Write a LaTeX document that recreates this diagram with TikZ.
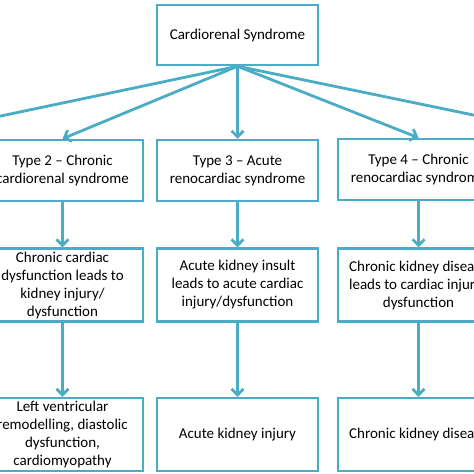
\documentclass[tikz,border=0pt]{standalone}
\usepackage{fontspec}
\setmainfont{Carlito}
\usetikzlibrary{arrows.meta, positioning}
\definecolor{crsblue}{RGB}{75,172,198}
\tikzstyle{box} = [rectangle, line width=2.5pt, draw=crsblue, minimum width=161pt, inner sep=1pt, align=center, font=\fontsize{15pt}{18pt}\selectfont]
\tikzstyle{arrow} = [line width=2.8pt, draw=crsblue, -{Straight Barb[length=6pt, width=12pt, line width=2.8pt]}]

\begin{document}
\begin{tikzpicture}[x=1pt, y=-1pt]
		\useasboundingbox (0,0) rectangle (474,474);
		\clip (0,0) rectangle (474,474);
		\fill [white] (0,0) rectangle (474,474);
		\node (CRS) [box, minimum height=60pt] at (237.5,35) {Cardiorenal Syndrome};
		% types
		\node (Type2) [box, minimum height=61pt] at (62.5,170.5) {Type 2 -- Chronic\\cardiorenal syndrome};
		\node (Type3) [box, minimum height=61pt] at (237.5,170.5) {Type 3 -- Acute\\renocardiac syndrome};
		\node (Type4) [box, minimum height=61pt] at (418.5,169.5) {Type 4 -- Chronic\\renocardiac syndrome};
		\coordinate (Type1) at (-113.5,140);
		\coordinate (Type5) at (594.5,140);
		% mechanisms
		\node (Mech2) [box, minimum height=73pt, below = 45pt of Type2] {Chronic cardiac\\dysfunction leads to\\kidney injury/\\dysfunction};
		\node (Mech3) [box, minimum height=73pt, below = 45pt of Type3] {Acute kidney insult\\leads to acute cardiac\\injury/dysfunction};
		\node (Mech4) [box, minimum height=73pt, below = 46pt of Type4] {Chronic kidney disease\\leads to cardiac injury/\\dysfunction};
		% outcomes
		\node (Out2) [box, minimum height=73pt, below = 74pt of Mech2] {Left ventricular\\remodelling, diastolic\\dysfunction,\\cardiomyopathy};
		\node (Out3) [box, minimum height=73pt, below = 74pt of Mech3] {Acute kidney injury};
		\node (Out4) [box, minimum height=73pt, below = 74pt of Mech4] {Chronic kidney disease};
		\draw [arrow] (CRS.south) -- (Type1);
		\draw [arrow] (CRS.south) -- (Type2.north);
		\draw [arrow] (CRS.south) -- (Type3.north);
		\draw [arrow] (CRS.south) -- (Type4.north);
		\draw [arrow] (CRS.south) -- (Type5);
		\draw [arrow] (Type2) -- (Mech2);
		\draw [arrow] (Type3) -- (Mech3);
		\draw [arrow] (Type4) -- (Mech4);
		\draw [arrow] (Mech2) -- (Out2);
		\draw [arrow] (Mech3) -- (Out3);
		\draw [arrow] (Mech4) -- (Out4);
	\end{tikzpicture}
\end{document}
